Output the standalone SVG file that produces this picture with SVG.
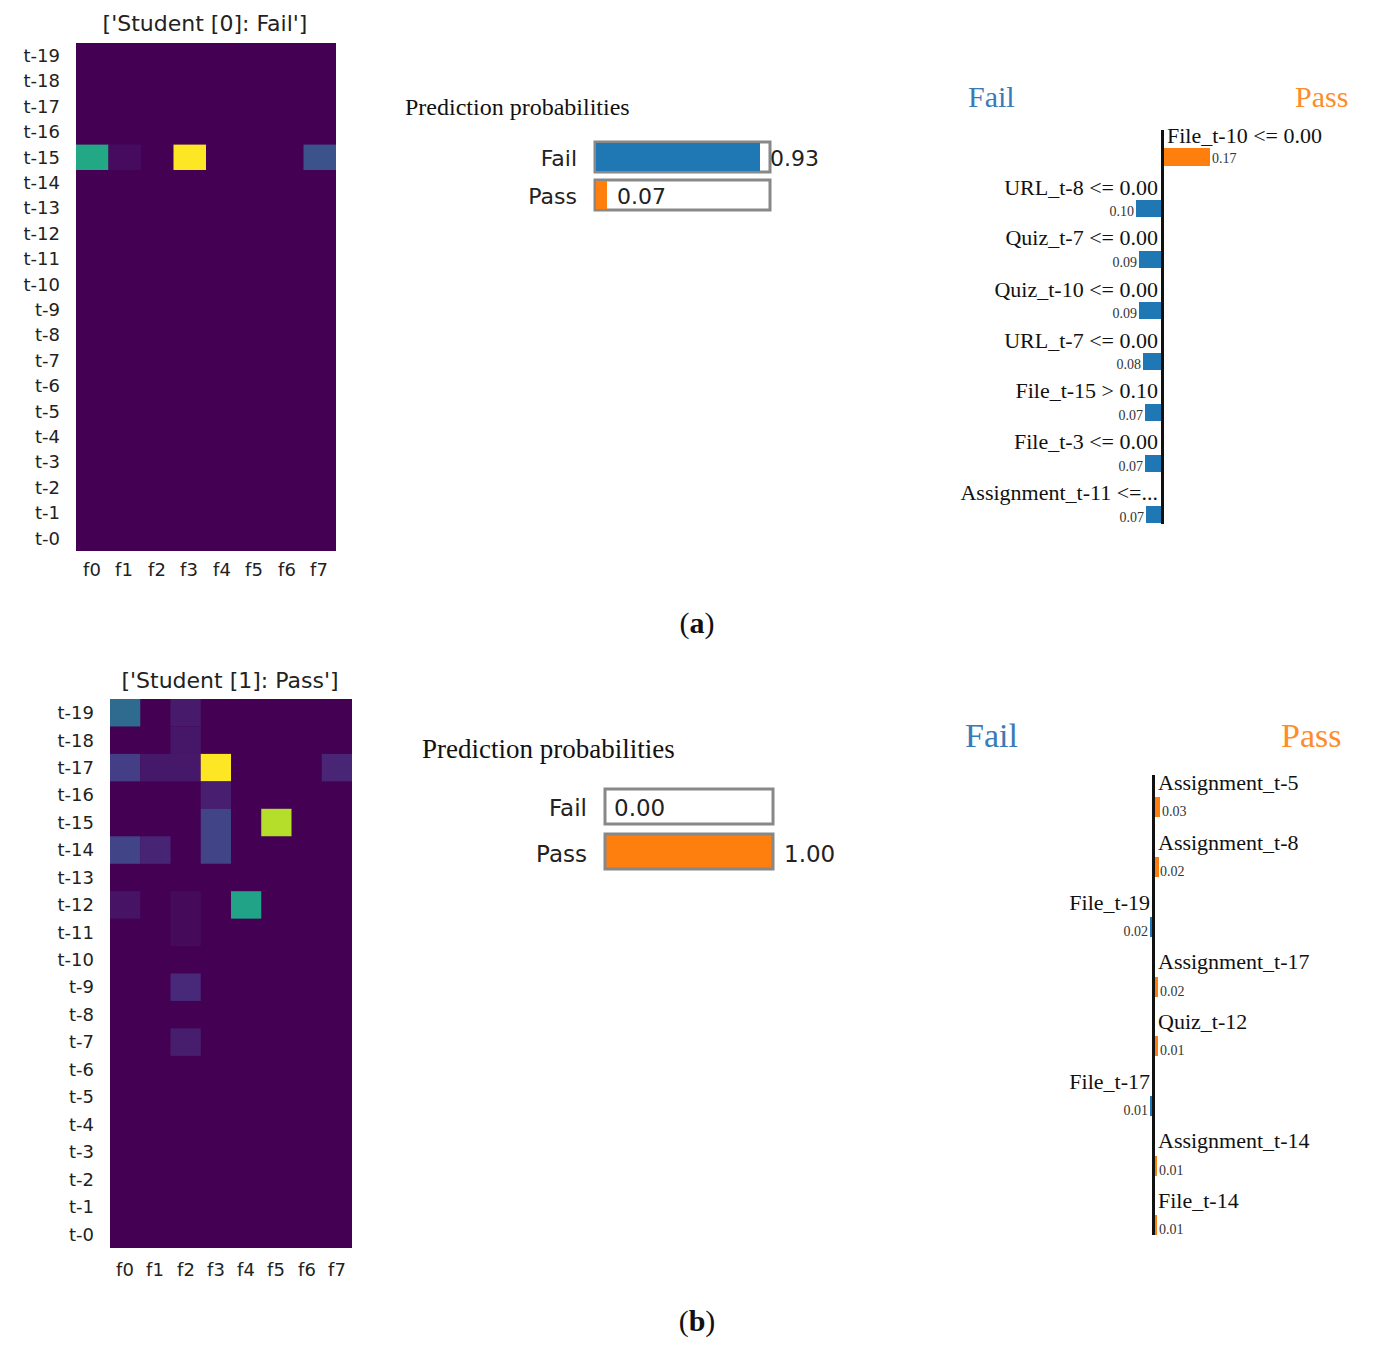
<svg xmlns="http://www.w3.org/2000/svg" width="1386" height="1355" viewBox="0 0 1386 1355">
<style>
.sans{font-family:"DejaVu Sans","Liberation Sans",sans-serif;fill:#222}
.ser{font-family:"Liberation Serif","DejaVu Serif",serif;fill:#111}
.tk{font-family:"DejaVu Sans",sans-serif;font-size:18px;fill:#222}
.bg{fill:#440154}
.lf{font-family:"Liberation Serif",serif;font-size:22px;fill:#111}
.v{font-family:"Liberation Serif",serif;font-size:14px;fill:#333}
.blue{fill:#1f77b4}.orange{fill:#ff7f0e}
.box{fill:#fff;stroke:#888;stroke-width:3}
</style>
<rect width="1386" height="1355" fill="#fff"/>
<g id="heatmap-a">
<text class="sans" x="205" y="31" font-size="22" text-anchor="middle">['Student [0]: Fail']</text>
<rect class="bg" x="76" y="43" width="260" height="508"/>
<rect x="76" y="144.6" width="32.5" height="25.4" fill="#22a884"/>
<rect x="108.5" y="144.6" width="32.5" height="25.4" fill="#460b5e"/>
<rect x="173.5" y="144.6" width="32.5" height="25.4" fill="#fde725"/>
<rect x="303.5" y="144.6" width="32.5" height="25.4" fill="#3b528b"/>
<g class="tk" text-anchor="end">
<text x="60" y="62">t-19</text><text x="60" y="87">t-18</text><text x="60" y="113">t-17</text><text x="60" y="138">t-16</text><text x="60" y="164">t-15</text><text x="60" y="189">t-14</text><text x="60" y="214">t-13</text><text x="60" y="240">t-12</text><text x="60" y="265">t-11</text><text x="60" y="291">t-10</text><text x="60" y="316">t-9</text><text x="60" y="341">t-8</text><text x="60" y="367">t-7</text><text x="60" y="392">t-6</text><text x="60" y="418">t-5</text><text x="60" y="443">t-4</text><text x="60" y="468">t-3</text><text x="60" y="494">t-2</text><text x="60" y="519">t-1</text><text x="60" y="545">t-0</text>
</g>
<g class="tk" text-anchor="middle">
<text x="92" y="576">f0</text><text x="124" y="576">f1</text><text x="157" y="576">f2</text><text x="189" y="576">f3</text><text x="222" y="576">f4</text><text x="254" y="576">f5</text><text x="287" y="576">f6</text><text x="319" y="576">f7</text>
</g>
</g>
<g id="proba-a">
<text class="ser" x="405" y="115" font-size="24">Prediction probabilities</text>
<text class="sans" x="577" y="166" font-size="22" text-anchor="end">Fail</text>
<rect class="box" x="595" y="142" width="175" height="30"/>
<rect class="blue" x="596" y="143" width="164" height="28"/>
<text class="sans" x="770" y="166" font-size="22">0.93</text>
<text class="sans" x="577" y="204" font-size="22" text-anchor="end">Pass</text>
<rect class="box" x="595" y="180" width="175" height="30"/>
<rect class="orange" x="596" y="181" width="11" height="28"/>
<text class="sans" x="617" y="204" font-size="22">0.07</text>
</g>
<g id="lime-a">
<text class="ser blue" x="968" y="107" font-size="30" style="fill:#3a7ab8">Fail</text>
<text class="ser" x="1295" y="107" font-size="30" style="fill:#ff8c2a">Pass</text>
<rect x="1161" y="130" width="3" height="394" fill="#111"/>
<text class="lf" x="1167" y="143">File_t-10 &lt;= 0.00</text>
<rect class="orange" x="1164" y="148" width="46" height="18"/><text class="v" x="1212" y="163">0.17</text>
<g text-anchor="end">
<text class="lf" x="1158" y="195">URL_t-8 &lt;= 0.00</text><rect class="blue" x="1136" y="200" width="25" height="17"/><text class="v" x="1134" y="216">0.10</text>
<text class="lf" x="1158" y="245">Quiz_t-7 &lt;= 0.00</text><rect class="blue" x="1139" y="251" width="22" height="17"/><text class="v" x="1137" y="267">0.09</text>
<text class="lf" x="1158" y="297">Quiz_t-10 &lt;= 0.00</text><rect class="blue" x="1139" y="302" width="22" height="17"/><text class="v" x="1137" y="318">0.09</text>
<text class="lf" x="1158" y="348">URL_t-7 &lt;= 0.00</text><rect class="blue" x="1143" y="353" width="18" height="17"/><text class="v" x="1141" y="369">0.08</text>
<text class="lf" x="1158" y="398">File_t-15 &gt; 0.10</text><rect class="blue" x="1145" y="404" width="16" height="17"/><text class="v" x="1143" y="420">0.07</text>
<text class="lf" x="1158" y="449">File_t-3 &lt;= 0.00</text><rect class="blue" x="1145" y="455" width="16" height="17"/><text class="v" x="1143" y="471">0.07</text>
<text class="lf" x="1158" y="500">Assignment_t-11 &lt;=...</text><rect class="blue" x="1146" y="506" width="15" height="17"/><text class="v" x="1144" y="522">0.07</text>
</g>
</g>
<text class="ser" x="697" y="633" font-size="30" text-anchor="middle">(<tspan font-weight="bold">a</tspan>)</text>
<g id="heatmap-b">
<text class="sans" x="230" y="688" font-size="22" text-anchor="middle">['Student [1]: Pass']</text>
<rect class="bg" x="110" y="699" width="242" height="549"/>
<rect x="110" y="699" width="30.25" height="27.45" fill="#2f6b8e"/>
<rect x="170.5" y="699" width="30.25" height="27.45" fill="#471a6b"/>
<rect x="170.5" y="726.5" width="30.25" height="27.45" fill="#461768"/>
<rect x="110" y="753.9" width="30.25" height="27.45" fill="#433e85"/>
<rect x="140.25" y="753.9" width="60.5" height="27.45" fill="#46186a"/>
<rect x="200.75" y="753.9" width="30.25" height="27.45" fill="#fde725"/>
<rect x="321.75" y="753.9" width="30.25" height="27.45" fill="#482575"/>
<rect x="200.75" y="781.4" width="30.25" height="27.45" fill="#481f70"/>
<rect x="200.75" y="808.8" width="30.25" height="54.9" fill="#414487"/>
<rect x="261.25" y="808.8" width="30.25" height="27.45" fill="#b5de2b"/>
<rect x="110" y="836.3" width="30.25" height="27.45" fill="#414487"/>
<rect x="140.25" y="836.3" width="30.25" height="27.45" fill="#482475"/>
<rect x="110" y="891.2" width="30.25" height="27.45" fill="#471365"/>
<rect x="170.5" y="891.2" width="30.25" height="54.9" fill="#450b5a"/>
<rect x="231" y="891.2" width="30.25" height="27.45" fill="#20a386"/>
<rect x="170.5" y="973.5" width="30.25" height="27.45" fill="#482878"/>
<rect x="170.5" y="1028.4" width="30.25" height="27.45" fill="#471e6d"/>
<g class="tk" text-anchor="end">
<text x="94" y="719">t-19</text><text x="94" y="747">t-18</text><text x="94" y="774">t-17</text><text x="94" y="801">t-16</text><text x="94" y="829">t-15</text><text x="94" y="856">t-14</text><text x="94" y="884">t-13</text><text x="94" y="911">t-12</text><text x="94" y="939">t-11</text><text x="94" y="966">t-10</text><text x="94" y="993">t-9</text><text x="94" y="1021">t-8</text><text x="94" y="1048">t-7</text><text x="94" y="1076">t-6</text><text x="94" y="1103">t-5</text><text x="94" y="1131">t-4</text><text x="94" y="1158">t-3</text><text x="94" y="1186">t-2</text><text x="94" y="1213">t-1</text><text x="94" y="1241">t-0</text>
</g>
<g class="tk" text-anchor="middle">
<text x="125" y="1276">f0</text><text x="155" y="1276">f1</text><text x="186" y="1276">f2</text><text x="216" y="1276">f3</text><text x="246" y="1276">f4</text><text x="276" y="1276">f5</text><text x="307" y="1276">f6</text><text x="337" y="1276">f7</text>
</g>
</g>
<g id="proba-b">
<text class="ser" x="422" y="758" font-size="27">Prediction probabilities</text>
<text class="sans" x="587" y="816" font-size="23" text-anchor="end">Fail</text>
<rect class="box" x="605" y="789" width="168" height="35"/>
<text class="sans" x="614" y="816" font-size="23">0.00</text>
<text class="sans" x="587" y="862" font-size="23" text-anchor="end">Pass</text>
<rect x="605" y="834" width="168" height="35" fill="#ff7f0e" stroke="#888" stroke-width="3"/>
<text class="sans" x="784" y="862" font-size="23">1.00</text>
</g>
<g id="lime-b">
<text class="ser" x="965" y="747" font-size="34" style="fill:#3a7ab8">Fail</text>
<text class="ser" x="1281" y="747" font-size="34" style="fill:#ff8c2a">Pass</text>
<rect x="1152" y="775" width="3" height="460" fill="#111"/>
<text class="lf" x="1158" y="790" font-size="24">Assignment_t-5</text><rect class="orange" x="1155" y="797" width="5" height="20"/><text class="v" x="1162" y="816" font-size="16">0.03</text>
<text class="lf" x="1158" y="850" font-size="24">Assignment_t-8</text><rect class="orange" x="1155" y="857" width="4" height="20"/><text class="v" x="1160" y="876" font-size="16">0.02</text>
<text class="lf" x="1150" y="910" font-size="24" text-anchor="end">File_t-19</text><rect class="blue" x="1150" y="917" width="2" height="20"/><text class="v" x="1148" y="936" font-size="16" text-anchor="end">0.02</text>
<text class="lf" x="1158" y="969" font-size="24">Assignment_t-17</text><rect class="orange" x="1155" y="977" width="3" height="20"/><text class="v" x="1160" y="996" font-size="16">0.02</text>
<text class="lf" x="1158" y="1029" font-size="24">Quiz_t-12</text><rect class="orange" x="1155" y="1036" width="3" height="20"/><text class="v" x="1160" y="1055" font-size="16">0.01</text>
<text class="lf" x="1150" y="1089" font-size="24" text-anchor="end">File_t-17</text><rect class="blue" x="1150" y="1096" width="2" height="20"/><text class="v" x="1148" y="1115" font-size="16" text-anchor="end">0.01</text>
<text class="lf" x="1158" y="1148" font-size="24">Assignment_t-14</text><rect class="orange" x="1155" y="1156" width="2" height="20"/><text class="v" x="1159" y="1175" font-size="16">0.01</text>
<text class="lf" x="1158" y="1208" font-size="24">File_t-14</text><rect class="orange" x="1155" y="1215" width="2" height="20"/><text class="v" x="1159" y="1234" font-size="16">0.01</text>
</g>
<text class="ser" x="697" y="1331" font-size="30" text-anchor="middle">(<tspan font-weight="bold">b</tspan>)</text>
</svg>
